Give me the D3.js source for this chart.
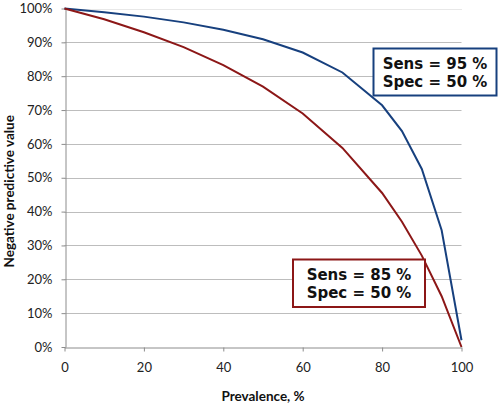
<!DOCTYPE html>
<html>
<head>
<meta charset="utf-8">
<script src="https://cdn.jsdelivr.net/npm/d3@7"></script>
<style>
  body { margin: 0; background: #fff; }
  .axis path, .axis line { stroke: #8c8c8c; }
  .axis text { font-family: Lato, "Open Sans", sans-serif; font-size: 13px; fill: #222; }
  .title { font-family: Lato, "Open Sans", sans-serif; font-size: 13.5px; font-weight: bold; fill: #111; }
  .box-text { font-family: "DejaVu Sans", Verdana, sans-serif; font-size: 15px; font-weight: bold; fill: #111; }
</style>
</head>
<body>
<div id="chart-container"></div>
<script>
// Prevalence (%) and negative predictive value (%)
const prevalence = [0, 10, 20, 30, 40, 50, 60, 70, 80, 85, 90, 95, 100];
const npvSens95 = [100, 98.9, 97.6, 95.9, 93.7, 90.9, 87, 81.1, 71.4, 63.8, 52.6, 34.5, 2];
const npvSens85 = [100, 96.8, 93, 88.6, 83.3, 76.9, 69, 58.8, 45.5, 37, 27, 15, 0];

const xTicks = [0, 20, 40, 60, 80, 100];
const yTicks = [0, 10, 20, 30, 40, 50, 60, 70, 80, 90, 100];

const boxLabels95 = ["Sens = 95 %", "Spec = 50 %"];
const boxLabels85 = ["Sens = 85 %", "Spec = 50 %"];

const width = 500, height = 406;
const blue = "#17407e", red = "#8c1717";

const svg = d3.select("#chart-container")
  .append("svg")
  .attr("width", width)
  .attr("height", height);

const xScale = d3.scaleLinear().domain([0, 100]).range([64.5, 461.5]);
const yScale = d3.scaleLinear().domain([0, 100]).range([347, 8.5]);

// Gridlines
svg.append("g")
  .selectAll("line")
  .data(yTicks.filter(d => d > 0))
  .enter()
  .append("line")
  .attr("x1", xScale(0))
  .attr("x2", xScale(100))
  .attr("y1", d => Math.round(yScale(d)) + 0.5)
  .attr("y2", d => Math.round(yScale(d)) + 0.5)
  .attr("stroke", d => d === 100 ? "#d0d0d0" : "#bdbdbd")
  .attr("stroke-dasharray", d => d === 100 ? "1,1" : null)
  .attr("stroke-width", 1);

// Axes
svg.append("g")
  .attr("class", "axis")
  .attr("transform", `translate(0,${Math.round(yScale(0)) + 0.5})`)
  .call(d3.axisBottom(xScale).tickValues(xTicks).tickSize(4).tickPadding(11).tickSizeOuter(0));

svg.append("g")
  .attr("class", "axis")
  .attr("transform", `translate(${Math.round(xScale(0)) + 0.5},0)`)
  .call(d3.axisLeft(yScale).tickValues(yTicks).tickSize(4).tickPadding(9)
    .tickFormat(d => d + "%").tickSizeOuter(0));

// Curves
const line = d3.line()
  .x((d, i) => xScale(prevalence[i]))
  .y(d => yScale(d));

svg.append("path")
  .datum(npvSens95)
  .attr("d", line)
  .attr("fill", "none")
  .attr("stroke", blue)
  .attr("stroke-width", 2);

svg.append("path")
  .datum(npvSens85)
  .attr("d", line)
  .attr("fill", "none")
  .attr("stroke", red)
  .attr("stroke-width", 2);

// Annotation boxes
function drawBox(x, y, w, h, color, lines) {
  const g = svg.append("g");
  g.append("rect")
    .attr("x", x).attr("y", y)
    .attr("width", w).attr("height", h)
    .attr("fill", "#fff")
    .attr("stroke", color)
    .attr("stroke-width", 2);
  lines.forEach((t, i) => {
    g.append("text")
      .attr("class", "box-text")
      .attr("x", x + w / 2)
      .attr("y", y + 20 + i * 18)
      .attr("text-anchor", "middle")
      .text(t);
  });
}
drawBox(373.5, 48.5, 123, 47, blue, boxLabels95);
drawBox(293, 259.5, 132, 47.5, red, boxLabels85);

// Axis titles
svg.append("text")
  .attr("class", "title")
  .attr("x", xScale(50))
  .attr("y", 401)
  .attr("text-anchor", "middle")
  .text("Prevalence, %");

svg.append("text")
  .attr("class", "title")
  .attr("transform", `translate(14,${yScale(46)}) rotate(-90)`)
  .attr("text-anchor", "middle")
  .text("Negative predictive value");
</script>
</body>
</html>
